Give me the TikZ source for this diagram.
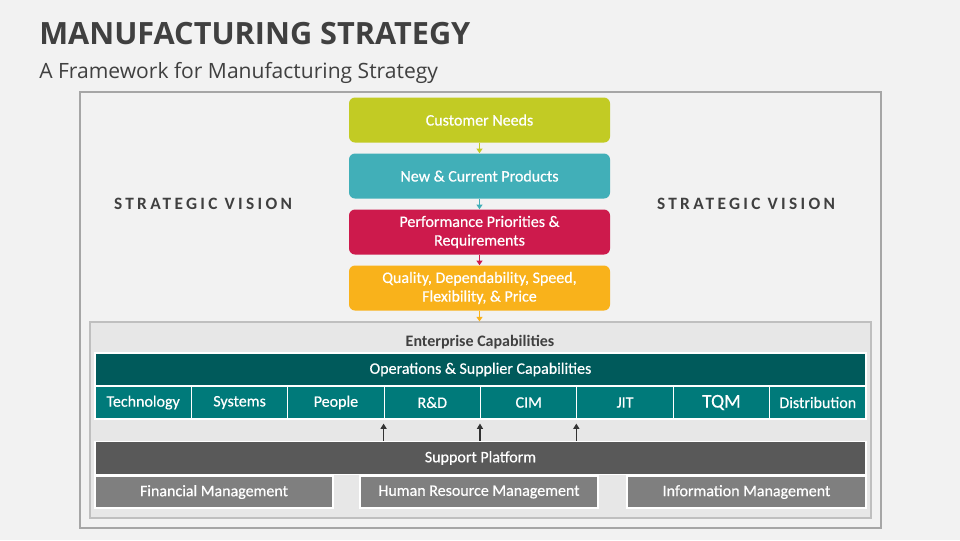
\documentclass[tikz,border=0pt]{standalone}
\usepackage{fontspec}
\setmainfont{Carlito}
\newfontfamily\titlefont{Open Sans}
\newfontfamily\boxfont{Carlito}[FakeBold=0.5]
\usetikzlibrary{positioning,arrows.meta}
\definecolor{bgcol}{HTML}{F2F2F2}
\definecolor{framecol}{HTML}{A6A6A6}
\definecolor{entcol}{HTML}{E7E7E7}
\definecolor{entline}{HTML}{BFBFBF}
\definecolor{darktxt}{HTML}{404040}
\definecolor{limecol}{HTML}{C2CB24}
\definecolor{tealcol}{HTML}{41AFB8}
\definecolor{redcol}{HTML}{CD1A4C}
\definecolor{orangecol}{HTML}{F9B21B}
\definecolor{opscol}{HTML}{005A5B}
\definecolor{cellcol}{HTML}{007A7A}
\definecolor{supcol}{HTML}{595959}
\definecolor{mgmtcol}{HTML}{7F7F7F}
\begin{document}
\begin{tikzpicture}[x=0.75pt,y=0.75pt,yscale=-1,xscale=1,
    flowbox/.style={rounded corners=4.5pt, minimum width=261*0.75pt, minimum height=45*0.75pt,
        inner sep=0pt, align=center, text=white, font=\boxfont\fontsize{12}{14}\selectfont},
    flowarrow/.style={line width=1.1pt, -{Triangle[length=3.5pt,width=4.5pt]}},
    cellbox/.style={draw=white, line width=0.8pt, fill=cellcol, text=white, inner sep=0pt,
        minimum width=96.375*0.75pt, minimum height=33*0.75pt, font=\boxfont\fontsize{12}{14}\selectfont},
    mgmtbox/.style={draw=white, line width=0.8pt, fill=mgmtcol, text=white, inner sep=0pt,
        minimum width=238*0.75pt, minimum height=32*0.75pt, font=\boxfont\fontsize{12}{14}\selectfont},
    barbox/.style={draw=white, line width=0.8pt, text=white, inner sep=0pt,
        minimum width=771*0.75pt, minimum height=33*0.75pt, font=\boxfont\fontsize{12}{14}\selectfont},
    visiontext/.style={text=darktxt, font=\fontsize{13}{15}\selectfont\bfseries\addfontfeature{LetterSpace=19}},
    uparrow/.style={line width=1pt, draw=black!80, -{Triangle[length=4pt,width=4.5pt]}}]
    % background and frame
    \fill[bgcol] (0,0) rectangle (960,540);
    \draw[framecol, line width=0.8pt] (80,92) rectangle (881,528);
    % titles
    \node[anchor=west, inner sep=0pt, text=darktxt, font=\titlefont\fontsize{23}{28}\selectfont\bfseries] (title) at (39,34) {MANUFACTURING STRATEGY};
    \node[anchor=west, inner sep=0pt, text=darktxt, font=\titlefont\fontsize{15.8}{19}\selectfont] (subtitle) at (39,73) {A Framework for Manufacturing Strategy};
    % strategic vision
    \node[visiontext] (visL) at (203,204) {STRATEGIC VISION};
    \node[visiontext] (visR) at (746,204) {STRATEGIC VISION};
    % flow boxes
    \node[flowbox, fill=limecol] (needs) at (479.5,120) {Customer Needs};
    \node[flowbox, fill=tealcol] (products) at (479.5,176) {New \& Current Products};
    \node[flowbox, fill=redcol] (priorities) at (479.5,232) {Performance Priorities \&\\Requirements};
    \node[flowbox, fill=orangecol] (quality) at (479.5,288) {Quality, Dependability, Speed,\\Flexibility, \& Price};
    % enterprise capabilities
    \node[draw=entline, fill=entcol, line width=0.8pt, minimum width=781*0.75pt, minimum height=196*0.75pt, inner sep=0pt] (ent) at (480.5,420) {};
    \node[text=darktxt, font=\fontsize{12}{14}\selectfont\bfseries] (enttitle) at (480,342) {Enterprise Capabilities};
    \node[barbox, fill=opscol] (ops) at (480.5,369.5) {Operations \& Supplier Capabilities};
    \foreach \name/\label [count=\i from 0] in {tech/Technology, sys/Systems, people/People, rd/R\&D, cim/CIM, jit/JIT, tqm/\fontsize{14.5}{16}\selectfont TQM, dist/Distribution}
        \node[cellbox] (\name) at ({95+96.375*(\i+0.5)},402.5) {\label};
    \node[barbox, fill=supcol] (support) at (480.5,458) {Support Platform};
    \node[mgmtbox] (fin) at (214,492) {Financial Management};
    \node[mgmtbox] (hr) at (479,492) {Human Resource Management};
    \node[mgmtbox, minimum width=239*0.75pt] (info) at (746.5,492) {Information Management};
    % flow arrows
    \draw[flowarrow, limecol] (needs) -- (products);
    \draw[flowarrow, tealcol] (products) -- (priorities);
    \draw[flowarrow, redcol] (priorities) -- (quality);
    \draw[flowarrow, orangecol] (quality) -- (quality.south |- ent.north);
    % support arrows
    \draw[uparrow, shorten >=3pt] (support.north -| rd.west) -- (rd.south west);
    \draw[uparrow, shorten >=3pt] (support.north -| cim.west) -- (cim.south west);
    \draw[uparrow, shorten >=3pt] (support.north -| jit.west) -- (jit.south west);
\end{tikzpicture}
\end{document}
